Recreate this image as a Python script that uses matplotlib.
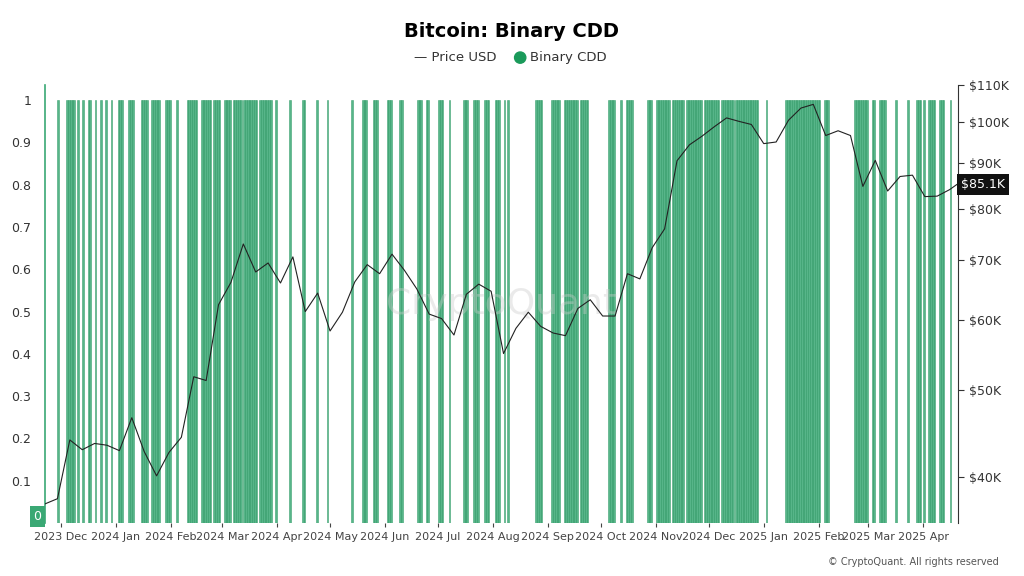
import matplotlib.pyplot as plt
from matplotlib.ticker import FixedLocator, NullLocator
from matplotlib.patches import Ellipse
import numpy as np
import pandas as pd

# Binary CDD = 1 on these day ranges (days since 2023-11-22, inclusive)
cdd_ranges = [(7, 7), (12, 16), (18, 18), (21, 21), (24, 25), (28, 28), (31, 31), (34, 34),
              (37, 37), (41, 43), (47, 49), (54, 57), (60, 64), (68, 70), (74, 74), (80, 85),
              (88, 93), (95, 98), (101, 104), (106, 110), (112, 119), (121, 127), (130, 130),
              (138, 138), (145, 146), (153, 153), (159, 159), (173, 173), (179, 181), (185, 187),
              (193, 195), (200, 201), (210, 212), (215, 216), (222, 224), (228, 228), (236, 238),
              (242, 244), (248, 250), (254, 256), (259, 259), (261, 261), (277, 280), (286, 290),
              (293, 296), (297, 300), (302, 306), (318, 321), (325, 325), (328, 331), (340, 342),
              (345, 352), (354, 360), (362, 370), (372, 380), (382, 388), (390, 402), (407, 407),
              (418, 437), (440, 442), (457, 464), (467, 468), (471, 474), (480, 480), (487, 487),
              (492, 494), (496, 496), (499, 502), (505, 507), (511, 511)]

# weekly BTC price (USD thousands)
price_dates = pd.date_range("2023-11-22", "2025-04-16", freq="7D").tolist() + [pd.Timestamp("2025-04-20")]
price_k = [37.3, 37.8, 44.0, 42.9, 43.6, 43.4, 42.8, 46.6, 42.7, 40.1, 42.6, 44.3, 51.8, 51.3,
           62.4, 66.1, 73.0, 67.9, 69.5, 66.0, 70.6, 61.3, 64.3, 58.3, 61.2, 66.2, 69.2, 67.6,
           71.1, 68.2, 65.0, 60.9, 60.2, 57.7, 64.1, 65.8, 64.6, 55.0, 58.7, 61.2, 59.0, 58.0,
           57.6, 61.8, 63.2, 60.6, 60.6, 67.6, 66.7, 72.3, 75.9, 90.5, 94.3, 96.4, 98.8, 101.1,
           100.2, 99.4, 94.6, 95.0, 100.5, 103.7, 104.7, 96.6, 97.8, 96.6, 84.7, 90.6, 83.7,
           86.9, 87.2, 82.5, 82.6, 84.0, 85.1]

price_ticks_k = [40, 50, 60, 70, 80, 90, 100, 110]
month_ticks = pd.date_range("2023-12-01", "2025-04-01", freq="MS")

start = pd.Timestamp("2023-11-22")
end = pd.Timestamp("2025-04-20")
days = pd.date_range(start, end, freq="D")
cdd = np.zeros(len(days))
for a, b in cdd_ranges:
    cdd[a:b + 1] = 1

green = "#3aa874"
fig = plt.figure(figsize=(10.24, 5.76), dpi=100)
ax = fig.add_axes([0.044, 0.092, 0.892, 0.76])
on = cdd == 1
ax.bar(days[on], cdd[on], width=1.0, color=green, alpha=0.85, linewidth=0.4, edgecolor="#2f9a66",
       align="edge")
ax.set_ylim(0, 1.035)
ax.set_xlim(start, end + pd.Timedelta(days=1))
ax.set_yticks(np.arange(0, 1.01, 0.1))
ax.set_yticklabels(["", "0.1", "0.2", "0.3", "0.4", "0.5", "0.6", "0.7", "0.8", "0.9", "1"])
ax.tick_params(axis="y", length=0, pad=10, labelsize=9, colors="#333333")
ax.set_xticks(month_ticks)
ax.set_xticklabels([d.strftime("%Y %b") for d in month_ticks])
ax.tick_params(axis="x", length=3, labelsize=8, colors="#444444")
for s in ["top", "right", "bottom"]:
    ax.spines[s].set_visible(False)
ax.spines["left"].set_color(green)
ax.spines["left"].set_linewidth(1.2)

ax2 = ax.twinx()
ax2.plot(price_dates, [p * 1000 for p in price_k], color="#222222", lw=0.8)
ax2.set_yscale("log")
ax2.set_ylim(35500, 110000)
ax2.yaxis.set_major_locator(FixedLocator([t * 1000 for t in price_ticks_k]))
ax2.yaxis.set_minor_locator(NullLocator())
ax2.set_yticklabels([f"${t}K" for t in price_ticks_k])
ax2.tick_params(axis="y", length=4, labelsize=9, colors="#333333")
for s in ["top", "left", "bottom"]:
    ax2.spines[s].set_visible(False)
ax2.spines["right"].set_color("#333333")
ax2.text(1.003, np.log(85100 / 35500) / np.log(110000 / 35500), "$85.1K", transform=ax2.transAxes,
         va="center", ha="left", fontsize=9, color="white",
         bbox=dict(boxstyle="square,pad=0.3", fc="#111111", ec="none"))
ax.text(-0.004, 0.0, "0", transform=ax.transAxes, va="bottom", ha="right", fontsize=9, color="white",
        bbox=dict(boxstyle="square,pad=0.3", fc=green, ec="none"))

ax.text(0.5, 0.5, "CryptoQuant", transform=ax.transAxes, ha="center", va="center",
        fontsize=26, color="#cccccc", alpha=0.4)

fig.text(0.5, 0.945, "Bitcoin: Binary CDD", ha="center", va="center", fontsize=14, fontweight="bold")
fig.text(0.445, 0.9, "— Price USD", ha="center", va="center", fontsize=9.5, color="#333333")
fig.patches.append(Ellipse((0.508, 0.9), 0.011, 0.0195, color="#1a9a5a", transform=fig.transFigure))
fig.text(0.518, 0.9, "Binary CDD", ha="left", va="center", fontsize=9.5, color="#333333")
fig.text(0.975, 0.025, "© CryptoQuant. All rights reserved", ha="right", va="center",
         fontsize=7, color="#555555")

fig.savefig("out.png", dpi=100)
